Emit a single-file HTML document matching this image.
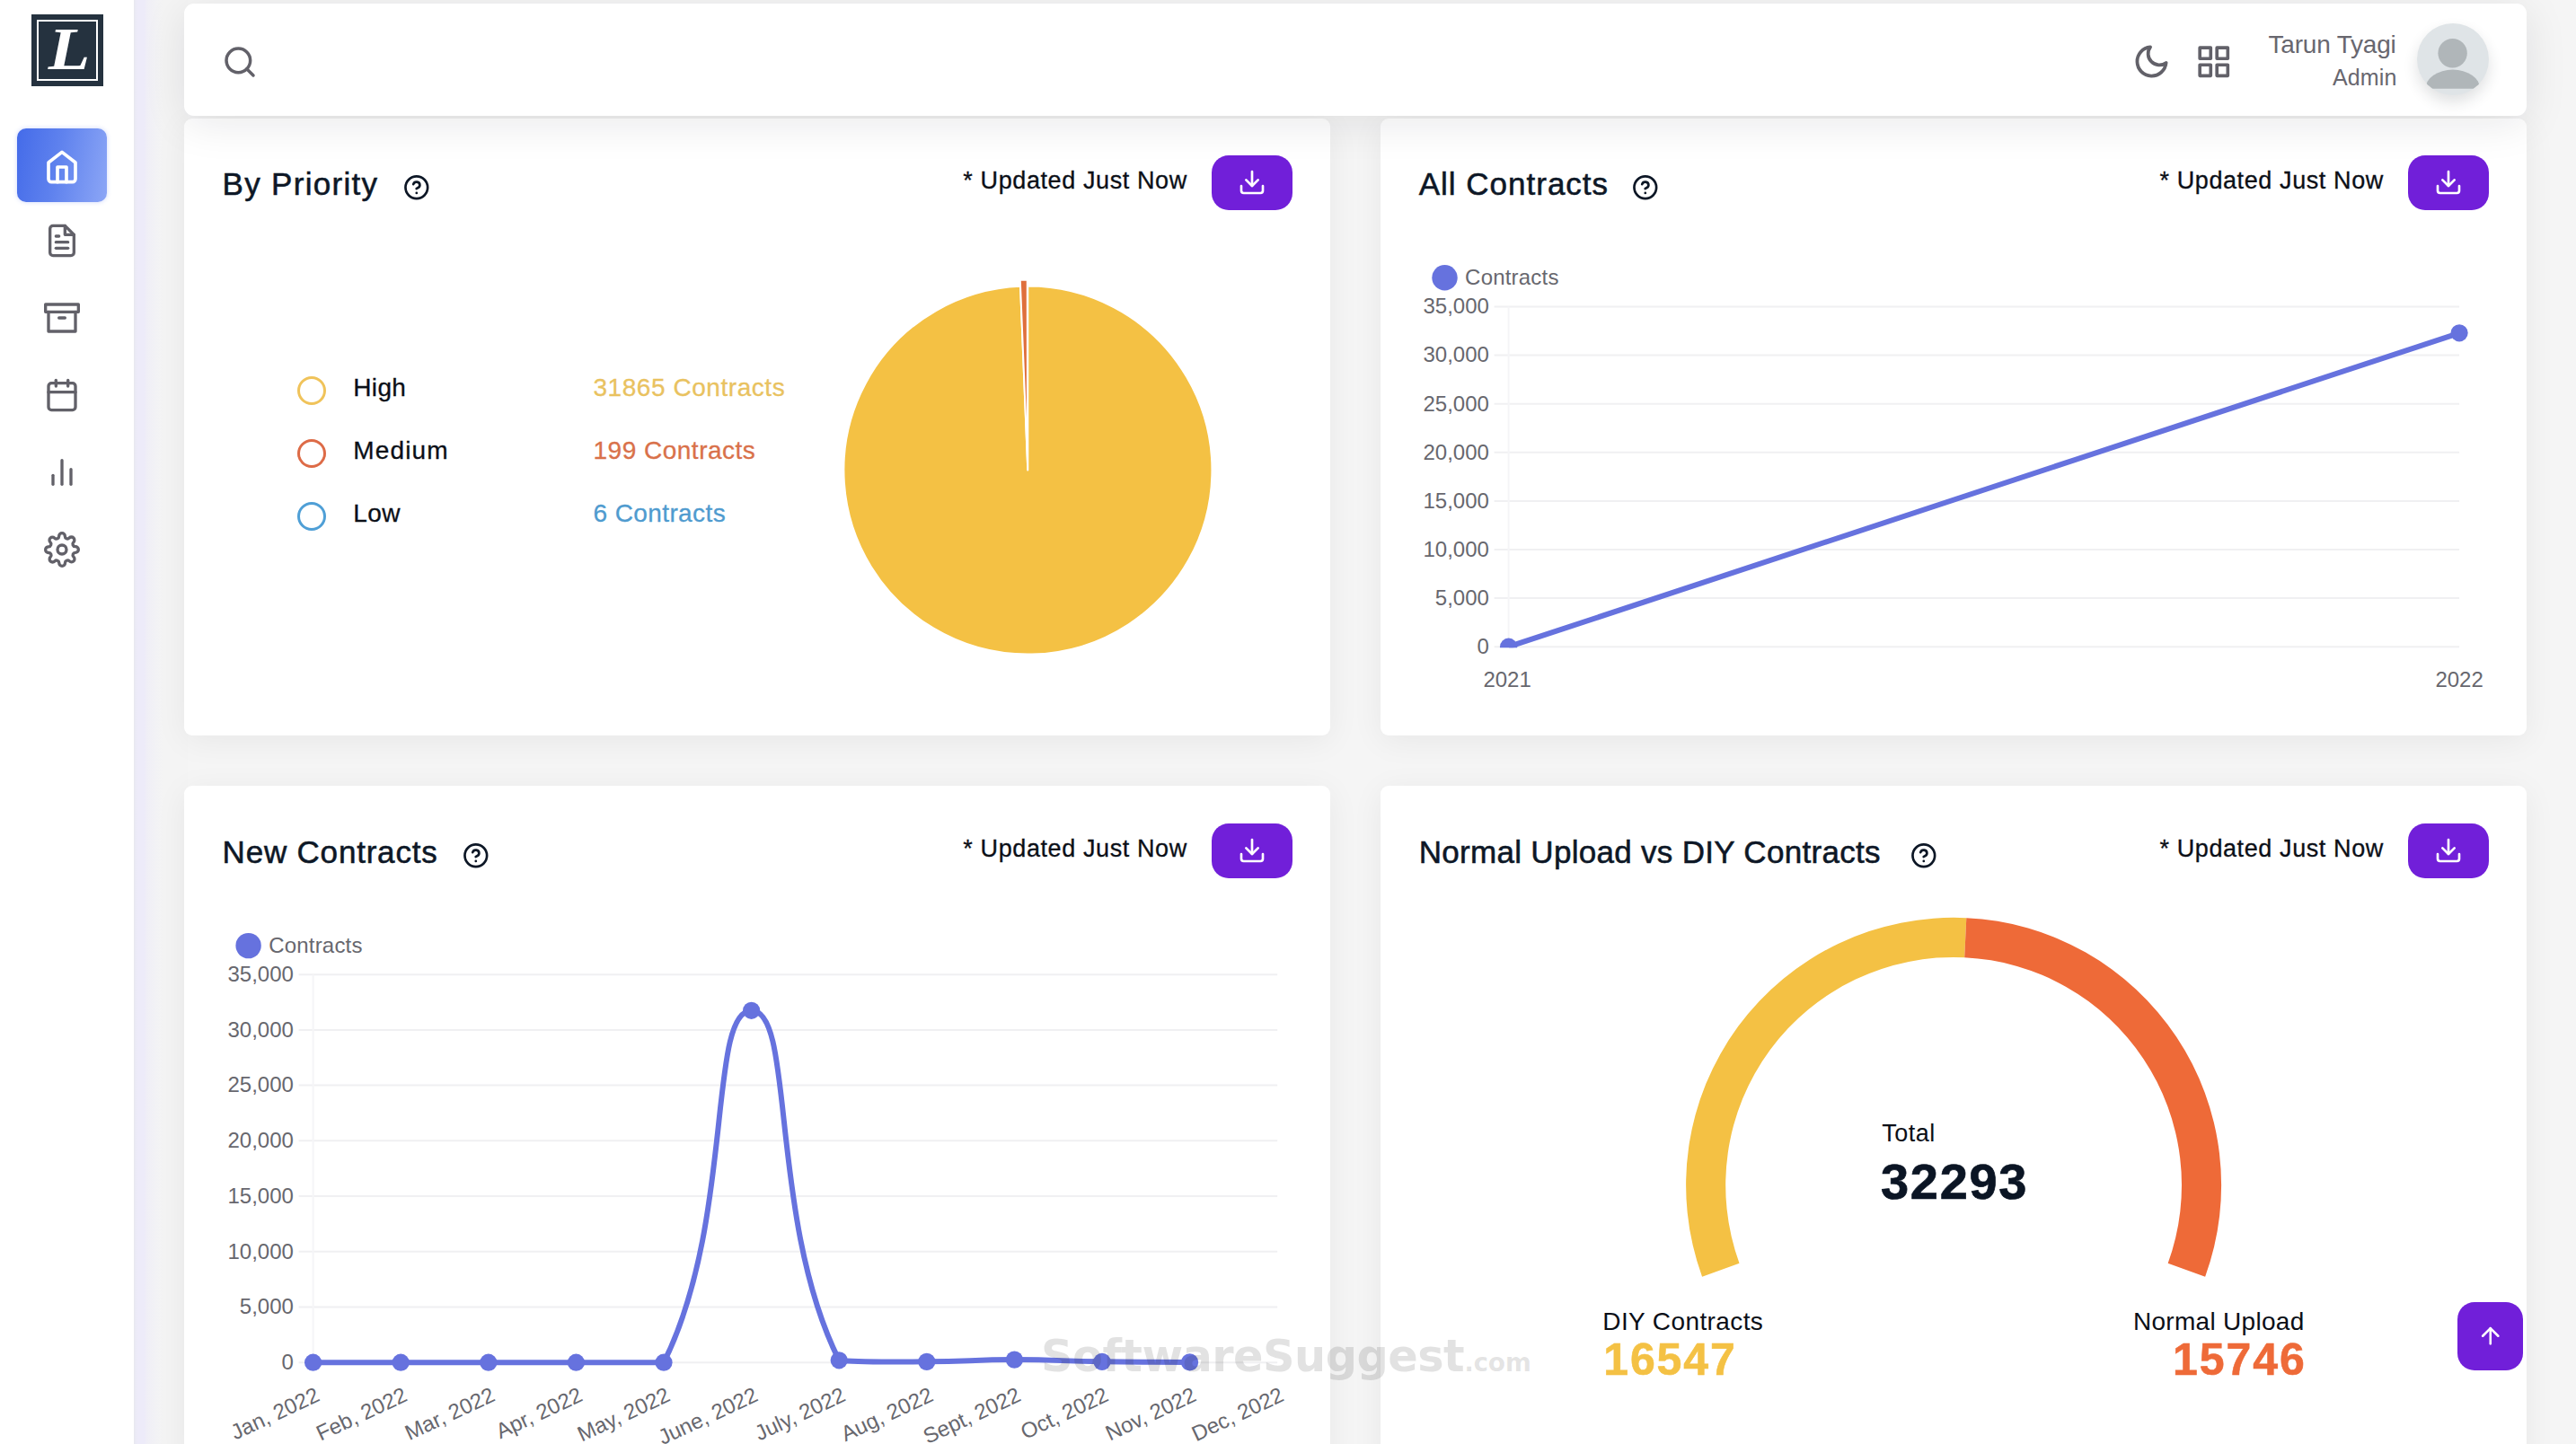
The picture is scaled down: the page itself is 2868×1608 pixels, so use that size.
<!DOCTYPE html>
<html lang="en"><head><meta charset="utf-8"><title>Dashboard</title>
<style>
*{box-sizing:border-box;margin:0;padding:0}
html,body{width:2868px;height:1608px;overflow:hidden}
body{position:relative;background:#f5f5f5;font-family:"Liberation Sans",sans-serif;color:#0d1726}
.abs,.ic,.t,.dot,.btn,.avatar{position:absolute}
.ic{display:block;overflow:visible}
.t{white-space:nowrap;line-height:1}
#side{position:absolute;left:0;top:0;width:149px;height:1608px;background:#fff;z-index:5}
#strip{position:absolute;left:149px;top:0;width:60px;height:1608px;background:linear-gradient(90deg,#e8e8ee 0,#ebeaf6 2px,#edebf9 5px,#edebf9 11px,#f0eff6 16px,#f2f2f5 24px,#f4f4f4 32px,#f4f4f4 100%)}
.logo{position:absolute;left:35px;top:16px;width:80px;height:80px;background:#25323f}
.logo-in{position:absolute;left:5.5px;top:5.7px;right:6.4px;bottom:6.2px;border:2.4px solid #fff}
.logo span{position:absolute;left:0;width:80px;top:4.2px;text-align:center;font-family:"Liberation Serif",serif;font-weight:700;font-style:italic;font-size:68px;line-height:1;color:#fff;transform:translateX(2px) scaleX(1.12)}
.nav-active{position:absolute;left:19px;top:142.7px;width:100px;height:82.3px;border-radius:10px;background:linear-gradient(100deg,#446be9 0%,#5f82ee 45%,#8ca6f6 100%);box-shadow:0 0 5px rgba(90,120,240,.3)}
#hdr{position:absolute;left:204.5px;top:4px;width:2608px;height:125px;background:#fff;border-radius:11px;box-shadow:0 8px 48px rgba(25,25,28,.095);z-index:4}
.card{position:absolute;width:1276px;background:#fff;border-radius:9px;box-shadow:0 6px 36px rgba(20,20,20,.06);overflow:hidden}
.btn{width:90px;height:60.7px;border-radius:19px;background:#711fd9}
.dot{width:32px;height:32px;border-radius:50%;border:3px solid}
.avatar{width:80px;height:80px;border-radius:50%;background:#dfe4e7;overflow:hidden;box-shadow:0 8px 16px rgba(34,41,47,.14)}
#top{position:absolute;left:2736px;top:1449.7px;width:73.2px;height:76.3px;border-radius:19px;background:#711fd9;z-index:6}
#wm{position:absolute;left:1159px;top:1485.7px;z-index:7;font-family:"DejaVu Sans","Liberation Sans",sans-serif;font-weight:700;color:rgba(40,40,40,.135);white-space:nowrap;line-height:1;font-size:49.4px;letter-spacing:-0.55px}
#wm small{font-size:28px;letter-spacing:-0.3px}
</style></head>
<body>
<div id="strip"></div>
<nav id="side">
<div class="logo"><div class="logo-in"></div><span>L</span></div>
<div class="nav-active"></div>
<svg class="ic" style="left:49px;top:166px" width="40" height="40" viewBox="0 0 24 24" fill="none" stroke="#fff" stroke-width="2.2" stroke-linecap="round" stroke-linejoin="round"><path d="M3 9l9-7 9 7v11a2 2 0 0 1-2 2H5a2 2 0 0 1-2-2z"/><polyline points="9 22 9 12 15 12 15 22"/></svg>
<svg class="ic" style="left:49px;top:248px" width="40" height="40" viewBox="0 0 24 24" fill="none" stroke="#626169" stroke-width="2.0" stroke-linecap="round" stroke-linejoin="round"><path d="M14 2H6a2 2 0 0 0-2 2v16a2 2 0 0 0 2 2h12a2 2 0 0 0 2-2V8z"/><polyline points="14 2 14 8 20 8"/><line x1="16" y1="13" x2="8" y2="13"/><line x1="16" y1="17" x2="8" y2="17"/><polyline points="10 9 9 9 8 9"/></svg>
<svg class="ic" style="left:49px;top:334px" width="40" height="40" viewBox="0 0 24 24" fill="none" stroke="#626169" stroke-width="2.0" stroke-linecap="round" stroke-linejoin="round"><polyline points="21 8 21 21 3 21 3 8"/><rect x="1" y="3" width="22" height="5"/><line x1="10" y1="12" x2="14" y2="12"/></svg>
<svg class="ic" style="left:49px;top:420px" width="40" height="40" viewBox="0 0 24 24" fill="none" stroke="#626169" stroke-width="2.0" stroke-linecap="round" stroke-linejoin="round"><rect x="3" y="4" width="18" height="18" rx="2" ry="2"/><line x1="16" y1="2" x2="16" y2="6"/><line x1="8" y1="2" x2="8" y2="6"/><line x1="3" y1="10" x2="21" y2="10"/></svg>
<svg class="ic" style="left:49px;top:506px" width="40" height="40" viewBox="0 0 24 24" fill="none" stroke="#626169" stroke-width="2.0" stroke-linecap="round" stroke-linejoin="round"><line x1="18" y1="20" x2="18" y2="10"/><line x1="12" y1="20" x2="12" y2="4"/><line x1="6" y1="20" x2="6" y2="14"/></svg>
<svg class="ic" style="left:49px;top:592px" width="40" height="40" viewBox="0 0 24 24" fill="none" stroke="#626169" stroke-width="2.0" stroke-linecap="round" stroke-linejoin="round"><circle cx="12" cy="12" r="3"/><path d="M19.4 15a1.65 1.65 0 0 0 .33 1.82l.06.06a2 2 0 0 1 0 2.83 2 2 0 0 1-2.83 0l-.06-.06a1.65 1.65 0 0 0-1.82-.33 1.65 1.65 0 0 0-1 1.51V21a2 2 0 0 1-2 2 2 2 0 0 1-2-2v-.09A1.65 1.65 0 0 0 9 19.4a1.65 1.65 0 0 0-1.82.33l-.06.06a2 2 0 0 1-2.83 0 2 2 0 0 1 0-2.83l.06-.06a1.65 1.65 0 0 0 .33-1.82 1.65 1.65 0 0 0-1.51-1H3a2 2 0 0 1-2-2 2 2 0 0 1 2-2h.09A1.65 1.65 0 0 0 4.6 9a1.65 1.65 0 0 0-.33-1.82l-.06-.06a2 2 0 0 1 0-2.83 2 2 0 0 1 2.83 0l.06.06a1.65 1.65 0 0 0 1.82.33H9a1.65 1.65 0 0 0 1-1.51V3a2 2 0 0 1 2-2 2 2 0 0 1 2 2v.09a1.65 1.65 0 0 0 1 1.51 1.65 1.65 0 0 0 1.82-.33l.06-.06a2 2 0 0 1 2.83 0 2 2 0 0 1 0 2.83l-.06.06a1.65 1.65 0 0 0-.33 1.82V9a1.65 1.65 0 0 0 1.51 1H21a2 2 0 0 1 2 2 2 2 0 0 1-2 2h-.09a1.65 1.65 0 0 0-1.51 1z"/></svg>
</nav>
<header id="hdr">
<svg class="ic" style="left:42.2px;top:44.7px" width="40" height="40" viewBox="0 0 24 24" fill="none" stroke="#626169" stroke-width="2.1" stroke-linecap="round" stroke-linejoin="round"><circle cx="11" cy="11" r="8"/><line x1="21" y1="21" x2="16.65" y2="16.65"/></svg>
<svg class="ic" style="left:2169px;top:42.9px" width="43" height="43" viewBox="0 0 24 24" fill="none" stroke="#626169" stroke-width="2.1" stroke-linecap="round" stroke-linejoin="round"><path d="M21 12.79A9 9 0 1 1 11.21 3 7 7 0 0 0 21 12.79z"/></svg>
<svg class="ic" style="left:2239.95px;top:44.25px" width="41.5" height="41.5" viewBox="0 0 24 24" fill="none" stroke="#626169" stroke-width="2.1" stroke-linecap="round" stroke-linejoin="round"><rect x="3" y="3" width="7" height="7"/><rect x="14" y="3" width="7" height="7"/><rect x="14" y="14" width="7" height="7"/><rect x="3" y="14" width="7" height="7"/></svg>
<div class="t" style="top:31.5px;font-size:28px;color:#68676f;letter-spacing:-0.2px;left:463.1px;width:2000px;text-align:right;">Tarun Tyagi</div>
<div class="t" style="top:69.94px;font-size:25px;color:#68676f;letter-spacing:0.15px;left:464.1px;width:2000px;text-align:right;">Admin</div>
<div class="avatar" style="left:2486.3px;top:22.2px"><svg width="80" height="80" viewBox="0 0 80 80"><clipPath id="avc"><rect x="0" y="0" width="80" height="72.8"/></clipPath><circle cx="39.6" cy="33.2" r="16.2" fill="#b0b6b9"/><ellipse cx="39.8" cy="72.4" rx="30.3" ry="20.8" fill="#b0b6b9" clip-path="url(#avc)"/></svg></div>
</header>
<main>
<section class="card" style="left:205.3px;top:131.5px;height:687.5px">
<div class="t" style="top:55.47px;font-size:35px;color:#0d1726;letter-spacing:1.3px;left:42.3px;-webkit-text-stroke:0.55px #0d1726;">By Priority</div>
<svg class="ic" style="left:244px;top:62.8px" width="29.6" height="29.6" viewBox="0 0 24 24" fill="none" stroke="#0d1726" stroke-width="2.2" stroke-linecap="round" stroke-linejoin="round"><circle cx="12" cy="12" r="10"/><path d="M9.09 9a3 3 0 0 1 5.83 1c0 2-3 3-3 3"/><line x1="12" y1="17" x2="12.01" y2="17"/></svg>
<div class="t" style="top:56.64px;font-size:27px;color:#0b0f17;letter-spacing:0.6px;left:-883.5px;width:2000px;text-align:right;-webkit-text-stroke:0.3px #0b0f17;">* Updated Just Now</div>
<div class="btn" style="left:1143.4px;top:41.7px"><svg class="ic" style="left:29px;top:14px" width="32" height="32" viewBox="0 0 24 24" fill="none" stroke="#fff" stroke-width="2" stroke-linecap="round" stroke-linejoin="round"><path d="M21 15v4a2 2 0 0 1-2 2H5a2 2 0 0 1-2-2v-4"/><polyline points="7 10 12 15 17 10"/><line x1="12" y1="15" x2="12" y2="3"/></svg></div>
<div class="dot" style="left:125.7px;top:287.5px;border-color:#f0c35a"></div>
<div class="t" style="top:286.9px;font-size:28px;color:#0b0f17;letter-spacing:0.35px;left:188px;-webkit-text-stroke:0.3px #0b0f17;">High</div>
<div class="t" style="top:286.9px;font-size:28px;color:#e9c25f;letter-spacing:0.55px;left:455.2px;-webkit-text-stroke:0.3px #e9c25f;">31865 Contracts</div>
<div class="dot" style="left:125.7px;top:357.5px;border-color:#dd6b47"></div>
<div class="t" style="top:356.9px;font-size:28px;color:#0b0f17;letter-spacing:1.15px;left:188px;-webkit-text-stroke:0.3px #0b0f17;">Medium</div>
<div class="t" style="top:356.9px;font-size:28px;color:#d9714a;letter-spacing:0.5px;left:455.2px;-webkit-text-stroke:0.3px #d9714a;">199 Contracts</div>
<div class="dot" style="left:125.7px;top:427.5px;border-color:#4f9fd6"></div>
<div class="t" style="top:426.9px;font-size:28px;color:#0b0f17;letter-spacing:0.35px;left:188px;-webkit-text-stroke:0.3px #0b0f17;">Low</div>
<div class="t" style="top:426.9px;font-size:28px;color:#4f9bcf;letter-spacing:0.4px;left:455.2px;-webkit-text-stroke:0.3px #4f9bcf;">6 Contracts</div>
<svg class="abs" style="left:694.7px;top:158.5px" width="500" height="470" viewBox="900 290 500 470"><path d="M1144.3,523.6 L1144.3,318.6 A205,205 0 1 1 1136.07,318.77 Z" fill="#f4c144" stroke="#fff" stroke-width="2" stroke-linejoin="round"/><path d="M1144.3,516.6 L1136.07,311.77 A205,205 0 0 1 1144.06,311.6 Z" fill="#df6f3c" stroke="#fff" stroke-width="2" stroke-linejoin="round" transform="translate(-0.3,0)"/><path d="M1144.3,523.6 L1144.06,318.6 A205,205 0 0 1 1144.3,318.6 Z" fill="#4f9fd6" stroke="#fff" stroke-width="1"/></svg>
</section>
<section class="card" style="left:1537.4px;top:131.5px;height:687.5px">
<div class="t" style="top:55.47px;font-size:35px;color:#0d1726;letter-spacing:1.0px;left:42.3px;-webkit-text-stroke:0.55px #0d1726;">All Contracts</div>
<svg class="ic" style="left:279.8px;top:62.8px" width="29.6" height="29.6" viewBox="0 0 24 24" fill="none" stroke="#0d1726" stroke-width="2.2" stroke-linecap="round" stroke-linejoin="round"><circle cx="12" cy="12" r="10"/><path d="M9.09 9a3 3 0 0 1 5.83 1c0 2-3 3-3 3"/><line x1="12" y1="17" x2="12.01" y2="17"/></svg>
<div class="t" style="top:56.64px;font-size:27px;color:#0b0f17;letter-spacing:0.6px;left:-883.5px;width:2000px;text-align:right;-webkit-text-stroke:0.3px #0b0f17;">* Updated Just Now</div>
<div class="btn" style="left:1143.4px;top:41.7px"><svg class="ic" style="left:29px;top:14px" width="32" height="32" viewBox="0 0 24 24" fill="none" stroke="#fff" stroke-width="2" stroke-linecap="round" stroke-linejoin="round"><path d="M21 15v4a2 2 0 0 1-2 2H5a2 2 0 0 1-2-2v-4"/><polyline points="7 10 12 15 17 10"/><line x1="12" y1="15" x2="12" y2="3"/></svg></div>
<svg class="abs chart" style="left:0px;top:0px" width="1276" height="687" viewBox="0 0 1276 687" font-family="Liberation Sans, sans-serif" font-size="24" fill="#67676e">
<circle cx="71.5" cy="177.3" r="14.2" fill="#6672de"/>
<text x="94.1" y="184.9" letter-spacing="0.2">Contracts</text>
<line x1="126.6" y1="588.2" x2="1201.1" y2="588.2" stroke="#f0f0f2" stroke-width="2"/>
<text x="120.9" y="596" text-anchor="end">0</text>
<line x1="126.6" y1="534.1" x2="1201.1" y2="534.1" stroke="#f0f0f2" stroke-width="2"/>
<text x="120.9" y="541.9" text-anchor="end">5,000</text>
<line x1="126.6" y1="480" x2="1201.1" y2="480" stroke="#f0f0f2" stroke-width="2"/>
<text x="120.9" y="487.8" text-anchor="end">10,000</text>
<line x1="126.6" y1="425.9" x2="1201.1" y2="425.9" stroke="#f0f0f2" stroke-width="2"/>
<text x="120.9" y="433.7" text-anchor="end">15,000</text>
<line x1="126.6" y1="371.8" x2="1201.1" y2="371.8" stroke="#f0f0f2" stroke-width="2"/>
<text x="120.9" y="379.6" text-anchor="end">20,000</text>
<line x1="126.6" y1="317.7" x2="1201.1" y2="317.7" stroke="#f0f0f2" stroke-width="2"/>
<text x="120.9" y="325.5" text-anchor="end">25,000</text>
<line x1="126.6" y1="263.6" x2="1201.1" y2="263.6" stroke="#f0f0f2" stroke-width="2"/>
<text x="120.9" y="271.4" text-anchor="end">30,000</text>
<line x1="126.6" y1="209.5" x2="1201.1" y2="209.5" stroke="#f0f0f2" stroke-width="2"/>
<text x="120.9" y="217.3" text-anchor="end">35,000</text>
<line x1="142.6" y1="209.5" x2="142.6" y2="588.2" stroke="#f5f5f7" stroke-width="2"/>
<clipPath id="cp0"><rect x="0" y="0" width="1276" height="589.2"/></clipPath><g clip-path="url(#cp0)">
<path d="M142.6,588.2 L1201.1,238.79" fill="none" stroke="#6672de" stroke-width="6" stroke-linecap="butt" stroke-linejoin="round"/>
<circle cx="142.6" cy="588.2" r="9.6" fill="#6672de"/>
<circle cx="1201.1" cy="238.79" r="9.6" fill="#6672de"/>
</g>
<text x="141.1" y="632.9" text-anchor="middle">2021</text>
<text x="1201.1" y="632.9" text-anchor="middle">2022</text>
</svg>
</section>
<section class="card" style="left:205.3px;top:874.6px;height:760px">
<div class="t" style="top:56.67px;font-size:35px;color:#0d1726;letter-spacing:0.8px;left:42.3px;-webkit-text-stroke:0.55px #0d1726;">New Contracts</div>
<svg class="ic" style="left:309.8px;top:63.5px" width="29.6" height="29.6" viewBox="0 0 24 24" fill="none" stroke="#0d1726" stroke-width="2.2" stroke-linecap="round" stroke-linejoin="round"><circle cx="12" cy="12" r="10"/><path d="M9.09 9a3 3 0 0 1 5.83 1c0 2-3 3-3 3"/><line x1="12" y1="17" x2="12.01" y2="17"/></svg>
<div class="t" style="top:57.14px;font-size:27px;color:#0b0f17;letter-spacing:0.6px;left:-883.5px;width:2000px;text-align:right;-webkit-text-stroke:0.3px #0b0f17;">* Updated Just Now</div>
<div class="btn" style="left:1143.4px;top:42.4px"><svg class="ic" style="left:29px;top:14px" width="32" height="32" viewBox="0 0 24 24" fill="none" stroke="#fff" stroke-width="2" stroke-linecap="round" stroke-linejoin="round"><path d="M21 15v4a2 2 0 0 1-2 2H5a2 2 0 0 1-2-2v-4"/><polyline points="7 10 12 15 17 10"/><line x1="12" y1="15" x2="12" y2="3"/></svg></div>
<svg class="abs chart" style="left:0px;top:0px" width="1276" height="760" viewBox="0 0 1276 760" font-family="Liberation Sans, sans-serif" font-size="24" fill="#67676e">
<circle cx="71.6" cy="178.1" r="14.2" fill="#6672de"/>
<text x="94.2" y="185.7" letter-spacing="0.2">Contracts</text>
<line x1="127.6" y1="642.2" x2="1217.2" y2="642.2" stroke="#f0f0f2" stroke-width="2"/>
<text x="121.9" y="650" text-anchor="end">0</text>
<line x1="127.6" y1="580.48" x2="1217.2" y2="580.48" stroke="#f0f0f2" stroke-width="2"/>
<text x="121.9" y="588.28" text-anchor="end">5,000</text>
<line x1="127.6" y1="518.76" x2="1217.2" y2="518.76" stroke="#f0f0f2" stroke-width="2"/>
<text x="121.9" y="526.56" text-anchor="end">10,000</text>
<line x1="127.6" y1="457.04" x2="1217.2" y2="457.04" stroke="#f0f0f2" stroke-width="2"/>
<text x="121.9" y="464.84" text-anchor="end">15,000</text>
<line x1="127.6" y1="395.32" x2="1217.2" y2="395.32" stroke="#f0f0f2" stroke-width="2"/>
<text x="121.9" y="403.12" text-anchor="end">20,000</text>
<line x1="127.6" y1="333.6" x2="1217.2" y2="333.6" stroke="#f0f0f2" stroke-width="2"/>
<text x="121.9" y="341.4" text-anchor="end">25,000</text>
<line x1="127.6" y1="271.88" x2="1217.2" y2="271.88" stroke="#f0f0f2" stroke-width="2"/>
<text x="121.9" y="279.68" text-anchor="end">30,000</text>
<line x1="127.6" y1="210.16" x2="1217.2" y2="210.16" stroke="#f0f0f2" stroke-width="2"/>
<text x="121.9" y="217.96" text-anchor="end">35,000</text>
<line x1="143.6" y1="210.16" x2="143.6" y2="642.2" stroke="#f5f5f7" stroke-width="2"/>
<path d="M143.6,642.2 C192.4,642.2 192.4,642.2 241.2,642.2 C290,642.2 290,642.2 338.8,642.2 C387.6,642.2 387.6,642.2 436.4,642.2 C485.2,642.2 515.01,642.2 534,642.2 C612.61,484.38 582.66,250.88 631.6,250.28 C680.26,249.68 650.69,482.5 729.2,639.79 C748.29,642.2 778,641.51 826.8,641.34 C875.6,641.17 875.6,639.11 924.4,639.11 C973.2,639.11 973.19,640.64 1022,641.34 C1070.79,642.03 1070.8,641.61 1119.6,641.89" fill="none" stroke="#6672de" stroke-width="6" stroke-linecap="butt" stroke-linejoin="round"/>
<circle cx="143.6" cy="642.2" r="9.6" fill="#6672de"/>
<circle cx="241.2" cy="642.2" r="9.6" fill="#6672de"/>
<circle cx="338.8" cy="642.2" r="9.6" fill="#6672de"/>
<circle cx="436.4" cy="642.2" r="9.6" fill="#6672de"/>
<circle cx="534" cy="642.2" r="9.6" fill="#6672de"/>
<circle cx="631.6" cy="250.28" r="9.6" fill="#6672de"/>
<circle cx="729.2" cy="639.79" r="9.6" fill="#6672de"/>
<circle cx="826.8" cy="641.34" r="9.6" fill="#6672de"/>
<circle cx="924.4" cy="639.11" r="9.6" fill="#6672de"/>
<circle cx="1022" cy="641.34" r="9.6" fill="#6672de"/>
<circle cx="1119.6" cy="641.89" r="9.6" fill="#6672de"/>
<text transform="translate(149.6,678.4) rotate(-25)" text-anchor="end" dominant-baseline="middle">Jan, 2022</text>
<text transform="translate(247.2,678.4) rotate(-25)" text-anchor="end" dominant-baseline="middle">Feb, 2022</text>
<text transform="translate(344.8,678.4) rotate(-25)" text-anchor="end" dominant-baseline="middle">Mar, 2022</text>
<text transform="translate(442.4,678.4) rotate(-25)" text-anchor="end" dominant-baseline="middle">Apr, 2022</text>
<text transform="translate(540,678.4) rotate(-25)" text-anchor="end" dominant-baseline="middle">May, 2022</text>
<text transform="translate(637.6,678.4) rotate(-25)" text-anchor="end" dominant-baseline="middle">June, 2022</text>
<text transform="translate(735.2,678.4) rotate(-25)" text-anchor="end" dominant-baseline="middle">July, 2022</text>
<text transform="translate(832.8,678.4) rotate(-25)" text-anchor="end" dominant-baseline="middle">Aug, 2022</text>
<text transform="translate(930.4,678.4) rotate(-25)" text-anchor="end" dominant-baseline="middle">Sept, 2022</text>
<text transform="translate(1028,678.4) rotate(-25)" text-anchor="end" dominant-baseline="middle">Oct, 2022</text>
<text transform="translate(1125.6,678.4) rotate(-25)" text-anchor="end" dominant-baseline="middle">Nov, 2022</text>
<text transform="translate(1223.2,678.4) rotate(-25)" text-anchor="end" dominant-baseline="middle">Dec, 2022</text>
</svg>
</section>
<section class="card" style="left:1537.4px;top:874.6px;height:760px">
<div class="t" style="top:56.67px;font-size:35px;color:#0d1726;letter-spacing:0.3px;left:42.3px;-webkit-text-stroke:0.55px #0d1726;">Normal Upload vs DIY Contracts</div>
<svg class="ic" style="left:589.6px;top:63.5px" width="29.6" height="29.6" viewBox="0 0 24 24" fill="none" stroke="#0d1726" stroke-width="2.2" stroke-linecap="round" stroke-linejoin="round"><circle cx="12" cy="12" r="10"/><path d="M9.09 9a3 3 0 0 1 5.83 1c0 2-3 3-3 3"/><line x1="12" y1="17" x2="12.01" y2="17"/></svg>
<div class="t" style="top:57.14px;font-size:27px;color:#0b0f17;letter-spacing:0.6px;left:-883.5px;width:2000px;text-align:right;-webkit-text-stroke:0.3px #0b0f17;">* Updated Just Now</div>
<div class="btn" style="left:1143.4px;top:42.4px"><svg class="ic" style="left:29px;top:14px" width="32" height="32" viewBox="0 0 24 24" fill="none" stroke="#fff" stroke-width="2" stroke-linecap="round" stroke-linejoin="round"><path d="M21 15v4a2 2 0 0 1-2 2H5a2 2 0 0 1-2-2v-4"/><polyline points="7 10 12 15 17 10"/><line x1="12" y1="15" x2="12" y2="3"/></svg></div>
<svg class="abs" style="left:312.6px;top:125.4px" width="660" height="440" viewBox="1850 1000 660 440"><path d="M1895.07,1421.72 A298.0,298.0 0 0 1 2189.29,1022.14 L2187.19,1066.19 A253.9,253.9 0 0 0 1936.51,1406.64 Z" fill="#f4c144"/><path d="M2189.29,1022.14 A298.0,298.0 0 0 1 2455.13,1421.72 L2413.69,1406.64 A253.9,253.9 0 0 0 2187.19,1066.19 Z" fill="#ee6a38"/></svg>
<div class="t" style="top:374.84px;font-size:27px;color:#0b0f17;letter-spacing:0.5px;left:557.8px;">Total</div>
<div class="t" style="top:413.6px;font-size:56px;color:#0b1524;font-weight:700;letter-spacing:1.7px;left:556.6px;-webkit-text-stroke:0.7px #0b1524;">32293</div>
<div class="t" style="top:583.1px;font-size:28px;color:#0b0f17;letter-spacing:0.4px;left:246.9px;">DIY Contracts</div>
<div class="t" style="top:613.98px;font-size:50px;color:#f4c144;font-weight:700;letter-spacing:1.9px;left:247.8px;-webkit-text-stroke:0.6px #f4c144;">16547</div>
<div class="t" style="top:583.1px;font-size:28px;color:#0b0f17;letter-spacing:0.3px;left:-971.8px;width:2000px;text-align:right;">Normal Upload</div>
<div class="t" style="top:613.98px;font-size:50px;color:#ee6a38;font-weight:700;letter-spacing:1.9px;left:-969.8px;width:2000px;text-align:right;-webkit-text-stroke:0.6px #ee6a38;">15746</div>
</section>
</main>
<div id="wm">SoftwareSuggest<small>.com</small></div>
<div id="top"><svg class="ic" style="left:22.15px;top:23.45px" width="29.5" height="29.5" viewBox="0 0 24 24" fill="none" stroke="#fff" stroke-width="2.1" stroke-linecap="round" stroke-linejoin="round"><line x1="12" y1="19" x2="12" y2="5"/><polyline points="5 12 12 5 19 12"/></svg></div>
</body></html>
